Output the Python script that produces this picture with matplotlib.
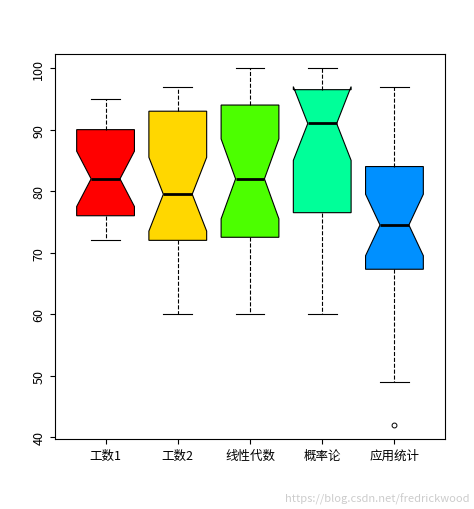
import matplotlib
matplotlib.use("Agg")
import matplotlib.pyplot as plt

plt.rcParams['font.family'] = ['Noto Sans CJK SC', 'DejaVu Sans']

labels = ['工数1', '工数2', '线性代数', '概率论', '应用统计']
whislo = [72, 60, 60, 60, 49]
q1 = [76, 72, 72.5, 76.5, 67.3]
med = [82, 79.5, 82, 91, 74.5]
q3 = [90, 93, 94, 96.5, 84]
whishi = [95, 97, 100, 100, 97]
cilo = [77.5, 73.5, 75.5, 85, 69.5]
cihi = [86.5, 85.5, 88.5, 97, 79.5]
fliers = [[], [], [], [], [42]]
colors = ['#FF0000', '#FFD700', '#4CFF00', '#00FF99', '#0090FF']

stats = []
for i in range(len(labels)):
    stats.append(dict(label=labels[i], whislo=whislo[i], q1=q1[i], med=med[i],
                      q3=q3[i], whishi=whishi[i], cilo=cilo[i], cihi=cihi[i],
                      fliers=fliers[i]))

fig = plt.figure(figsize=(4.74, 5.1), dpi=100)
ax = fig.add_axes([55/474, 70/510, 390/474, 385/510])
bp = ax.bxp(stats, positions=range(1, 6), widths=0.8, shownotches=True,
            patch_artist=True,
            boxprops=dict(edgecolor='black', linewidth=0.8),
            medianprops=dict(color='black', linewidth=2),
            whiskerprops=dict(linestyle='--', linewidth=0.8, color='black'),
            capprops=dict(linewidth=0.8, color='black'),
            flierprops=dict(marker='o', markersize=3.5, markerfacecolor='none',
                            markeredgecolor='black', markeredgewidth=0.7))
for p, c in zip(bp['boxes'], colors):
    p.set_facecolor(c)
for cap in bp['caps']:
    x = cap.get_xdata()
    m = (x[0] + x[1]) / 2
    cap.set_xdata([m - 0.2, m + 0.2])

ax.set_xlim(0.3, 5.7)
ax.set_ylim(39.7, 102.3)
ax.set_yticks([40, 50, 60, 70, 80, 90, 100])
ax.set_yticklabels(['40', '50', '60', '70', '80', '90', '100'], rotation=90, va='center')
ax.tick_params(labelsize=9)
fig.text(0.99, 0.01, 'https://blog.csdn.net/fredrickwood', ha='right', va='bottom',
         color='#cccccc', fontsize=8)
fig.savefig('out.png', dpi=100)
